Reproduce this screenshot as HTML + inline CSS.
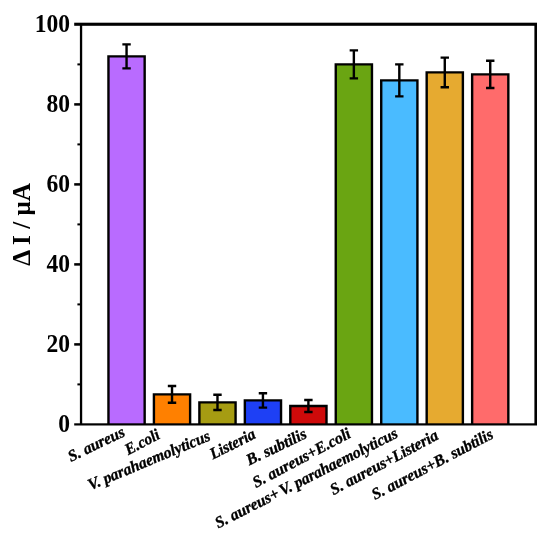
<!DOCTYPE html>
<html lang="en">
<head>
<meta charset="utf-8">
<title>Selectivity bar chart</title>
<style>
html,body{margin:0;padding:0;background:#fff;}
body{width:550px;height:538px;overflow:hidden;}
svg{display:block;}
.tk{font-family:"Liberation Serif","Times New Roman",serif;font-weight:bold;font-size:24.8px;fill:#000;}
.yl{font-family:"Liberation Serif","Times New Roman",serif;font-weight:bold;font-size:26px;fill:#000;}
.xl{font-family:"Liberation Serif","Times New Roman",serif;font-weight:bold;font-style:italic;font-size:16.1px;fill:#000;stroke:#000;stroke-width:0.35px;}
</style>
</head>
<body>
<svg width="550" height="538" viewBox="0 0 550 538">
<rect x="0" y="0" width="550" height="538" fill="#fff"/>
<path d="M108.46 424.40V56.40H144.66V424.40" fill="#B96BFF" stroke="#000" stroke-width="2.4" stroke-linejoin="miter"/>
<path d="M126.56 44.40V68.40M122.36 44.40h8.4M122.36 68.40h8.4" stroke="#000" stroke-width="2.4" fill="none"/>
<path d="M153.92 424.40V394.40H190.12V424.40" fill="#FF8000" stroke="#000" stroke-width="2.4" stroke-linejoin="miter"/>
<path d="M172.02 386.00V402.80M167.82 386.00h8.4M167.82 402.80h8.4" stroke="#000" stroke-width="2.4" fill="none"/>
<path d="M199.38 424.40V402.40H235.58V424.40" fill="#A69C12" stroke="#000" stroke-width="2.4" stroke-linejoin="miter"/>
<path d="M217.48 394.80V410.00M213.28 394.80h8.4M213.28 410.00h8.4" stroke="#000" stroke-width="2.4" fill="none"/>
<path d="M244.84 424.40V400.40H281.04V424.40" fill="#1E40F5" stroke="#000" stroke-width="2.4" stroke-linejoin="miter"/>
<path d="M262.94 393.20V407.60M258.74 393.20h8.4M258.74 407.60h8.4" stroke="#000" stroke-width="2.4" fill="none"/>
<path d="M290.30 424.40V406.00H326.50V424.40" fill="#CE0A0A" stroke="#000" stroke-width="2.4" stroke-linejoin="miter"/>
<path d="M308.40 400.00V412.00M304.20 400.00h8.4M304.20 412.00h8.4" stroke="#000" stroke-width="2.4" fill="none"/>
<path d="M335.76 424.40V64.40H371.96V424.40" fill="#6AA512" stroke="#000" stroke-width="2.4" stroke-linejoin="miter"/>
<path d="M353.86 50.40V78.40M349.66 50.40h8.4M349.66 78.40h8.4" stroke="#000" stroke-width="2.4" fill="none"/>
<path d="M381.22 424.40V80.40H417.42V424.40" fill="#4ABBFF" stroke="#000" stroke-width="2.4" stroke-linejoin="miter"/>
<path d="M399.32 64.40V96.40M395.12 64.40h8.4M395.12 96.40h8.4" stroke="#000" stroke-width="2.4" fill="none"/>
<path d="M426.68 424.40V72.40H462.88V424.40" fill="#E6AA30" stroke="#000" stroke-width="2.4" stroke-linejoin="miter"/>
<path d="M444.78 57.60V87.20M440.58 57.60h8.4M440.58 87.20h8.4" stroke="#000" stroke-width="2.4" fill="none"/>
<path d="M472.14 424.40V74.40H508.34V424.40" fill="#FF6B6B" stroke="#000" stroke-width="2.4" stroke-linejoin="miter"/>
<path d="M490.24 60.80V88.00M486.04 60.80h8.4M486.04 88.00h8.4" stroke="#000" stroke-width="2.4" fill="none"/>
<rect x="79.9" y="24" width="2.3" height="400" fill="#000"/>
<rect x="534.4" y="24" width="2.6" height="400" fill="#000"/>
<rect x="74.2" y="22.7" width="462.8" height="3.1" fill="#000"/>
<rect x="74.2" y="423.3" width="462.8" height="2.2" fill="#000"/>
<rect x="74.2" y="343.15" width="6.5" height="2.5" fill="#000"/>
<rect x="74.2" y="263.15" width="6.5" height="2.5" fill="#000"/>
<rect x="74.2" y="183.15" width="6.5" height="2.5" fill="#000"/>
<rect x="74.2" y="103.15" width="6.5" height="2.5" fill="#000"/>
<rect x="77.4" y="383.40" width="3.5" height="2.0" fill="#000"/>
<rect x="77.4" y="303.40" width="3.5" height="2.0" fill="#000"/>
<rect x="77.4" y="223.40" width="3.5" height="2.0" fill="#000"/>
<rect x="77.4" y="143.40" width="3.5" height="2.0" fill="#000"/>
<rect x="77.4" y="63.40" width="3.5" height="2.0" fill="#000"/>
<text class="tk" transform="translate(70.1 431.80) scale(0.949 1)" text-anchor="end">0</text>
<text class="tk" transform="translate(70.1 351.80) scale(0.949 1)" text-anchor="end">20</text>
<text class="tk" transform="translate(70.1 271.80) scale(0.949 1)" text-anchor="end">40</text>
<text class="tk" transform="translate(70.1 191.80) scale(0.949 1)" text-anchor="end">60</text>
<text class="tk" transform="translate(70.1 111.80) scale(0.949 1)" text-anchor="end">80</text>
<text class="tk" transform="translate(70.1 31.80) scale(0.949 1)" text-anchor="end">100</text>
<text class="yl" transform="translate(30.4 224.3) rotate(-90) scale(0.972 1)" text-anchor="middle">Δ I / μA</text>
<text class="xl" transform="translate(71.00 461.90) rotate(-25.64) scale(0.9745 1)">S. aureus</text>
<text class="xl" transform="translate(128.30 455.30) rotate(-27.88) scale(0.9513 1)">E.coli</text>
<text class="xl" transform="translate(90.40 490.30) rotate(-22.67) scale(0.9727 1)">V. parahaemolyticus</text>
<text class="xl" transform="translate(213.00 459.50) rotate(-26.57) scale(0.9611 1)">Listeria</text>
<text class="xl" transform="translate(249.30 465.60) rotate(-25.74) scale(0.9814 1)">B. subtilis</text>
<text class="xl" transform="translate(256.10 488.00) rotate(-28.10) scale(0.9825 1)">S. aureus+E.coli</text>
<text class="xl" transform="translate(218.30 528.40) rotate(-26.88) scale(0.9691 1)">S. aureus+<tspan dx="2.6">V. parahaemolyticus</tspan></text>
<text class="xl" transform="translate(333.60 495.20) rotate(-28.12) scale(0.9785 1)">S. aureus+Listeria</text>
<text class="xl" transform="translate(375.00 500.10) rotate(-27.63) scale(0.9770 1)">S. aureus+B. subtilis</text>
</svg>
</body>
</html>
